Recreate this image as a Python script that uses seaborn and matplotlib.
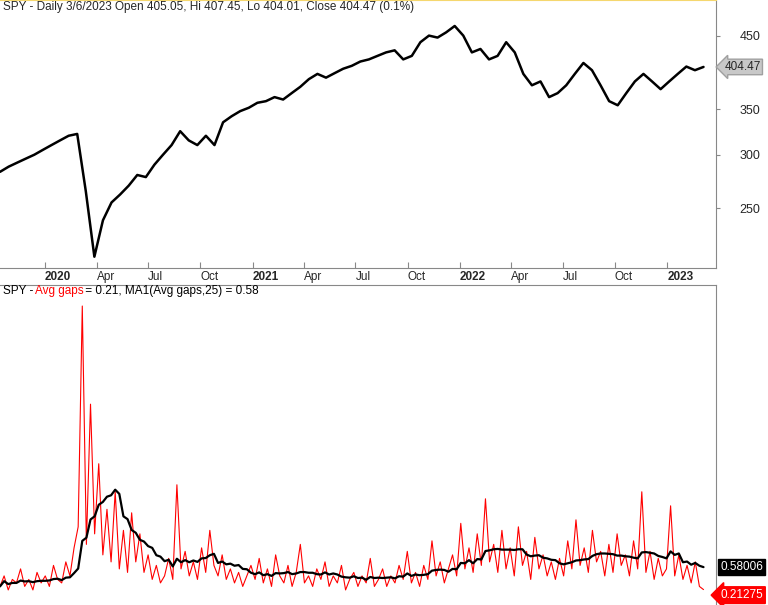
import pandas as pd
import numpy as np
import matplotlib
matplotlib.use('Agg')
import matplotlib.pyplot as plt
import matplotlib.dates as mdates
import seaborn as sns

sns.set_style('white')
plt.rcParams['font.family'] = ['Liberation Sans', 'DejaVu Sans']

# SPY close, roughly every two weeks, Oct 2019 - Mar 2023
price = [283, 288, 292, 296, 300, 305,
         310, 315, 320, 322,
         265, 212,
         240, 255, 262, 270, 280, 278,
         290, 300, 310, 325, 315, 310,
         320, 310, 335, 342, 348, 352,
         358, 360, 365, 362, 370, 378,
         388, 395, 390, 396, 402, 406,
         412, 415, 420, 425, 428, 415,
         420, 440, 450, 447, 455, 465,
         450, 425, 430, 415, 420, 440,
         425, 395, 380, 385, 365, 370,
         380, 395, 410, 400, 380, 360,
         355, 370, 385, 395, 385, 375,
         385, 395, 405, 400, 404.47]

# average gaps, weekly
gaps = [0.3, 0.6, 0.2, 0.5, 0.4, 0.8, 0.3, 0.5, 0.2, 0.7, 0.4,
        0.6, 0.3, 0.9, 0.5, 0.4, 1.0, 0.6, 1.4,
        2.0, 8.3, 1.5, 5.5, 1.8, 3.8, 1.2, 2.5, 1.0, 3.0, 0.8, 1.9, 0.7,
        2.4, 1.0, 1.8, 0.7, 1.2, 0.5, 0.9, 0.4, 0.6, 1.1, 0.5, 3.2, 0.8, 1.3, 0.6, 1.0, 0.5,
        1.4, 0.7, 1.9, 0.9, 0.6, 1.2, 0.5, 0.8, 0.4, 0.7, 0.3, 0.6, 0.9,
        0.5, 1.1, 0.4, 0.8, 0.3, 1.2, 0.6, 0.4, 0.9, 0.3, 0.7, 1.5,
        0.4, 0.6, 0.3, 0.8, 0.5, 1.0, 0.3, 0.6, 0.4, 0.9, 0.2, 0.5,
        0.7, 0.3, 0.6, 0.4, 1.1, 0.3, 0.5, 0.8, 0.3, 0.6, 0.4, 0.9,
        0.5, 1.3, 0.4, 0.7, 0.3, 0.9, 0.5, 1.6, 0.6, 1.0, 0.4, 0.8,
        1.2, 0.6, 2.1, 0.8, 1.4, 0.7, 1.8, 0.9, 2.8, 1.0, 1.5, 0.7, 1.9,
        0.8, 1.4, 0.6, 2.0, 0.9, 1.3, 0.5, 1.7, 0.8, 1.2, 0.6, 1.0, 0.5,
        1.1, 0.6, 1.6, 0.8, 2.2, 0.9, 1.4, 0.7, 1.9, 1.0, 1.3, 0.6, 1.5,
        0.7, 1.8, 0.9, 1.2, 0.6, 1.6, 0.8, 3.0, 0.7, 1.3, 0.5, 1.1, 0.6,
        0.8, 2.6, 0.6, 1.2, 0.5, 0.9, 0.4, 1.0, 0.3, 0.21]

start, end = '2019-10-14', '2023-03-06'
price_df = pd.DataFrame({'date': pd.date_range(start, end, periods=len(price)), 'close': price})
gap_df = pd.DataFrame({'date': pd.date_range(start, end, periods=len(gaps)), 'gap': gaps})
gap_df['ma'] = gap_df['gap'].rolling(10, min_periods=1).mean()

W, H = 768, 605
fig = plt.figure(figsize=(W / 100, H / 100), dpi=100)
ax1 = fig.add_axes([0, 1 - 268 / H, 716 / W, 268 / H])
ax2 = fig.add_axes([0, 0, 716 / W, (H - 285) / H])

xlim = (pd.Timestamp('2019-10-14'), pd.Timestamp('2023-03-28'))
grey = '#888888'


def date_fmt(v, pos):
    d = mdates.num2date(v)
    return str(d.year) if d.month == 1 else d.strftime('%b')


# price panel
sns.lineplot(data=price_df, x='date', y='close', ax=ax1, color='black', lw=1.8)
ax1.set_yscale('log')
ax1.set_ylim(204, 508)
ax1.set_xlim(xlim)
ax1.yaxis.tick_right()
ax1.set_yticks([250, 300, 350, 450])
ax1.yaxis.set_major_formatter(matplotlib.ticker.FuncFormatter(lambda v, p: f'{v:.0f}'))
ax1.yaxis.set_minor_locator(matplotlib.ticker.NullLocator())
ax1.tick_params(axis='y', right=True, length=3, color=grey, labelsize=9, pad=14)
ax1.xaxis.set_major_locator(mdates.MonthLocator(bymonth=[1, 4, 7, 10]))
ax1.xaxis.set_major_formatter(matplotlib.ticker.FuncFormatter(date_fmt))
ax1.tick_params(axis='x', bottom=True, direction='in', length=4, color=grey, labelsize=8.5, pad=2)
fig.canvas.draw()
for lbl, t in zip(ax1.get_xticklabels(), ax1.get_xticks()):
    lbl.set_horizontalalignment('left')
    if mdates.num2date(t).month == 1:
        lbl.set_fontweight('bold')
ax1.set_xlabel('')
ax1.set_ylabel('')
for s in ax1.spines.values():
    s.set_color(grey)
ax1.spines['top'].set_color('#f5d76e')
ax1.spines['left'].set_visible(False)
ax1.text(0.004, 0.995, 'SPY - Daily 3/6/2023 Open 405.05, Hi 407.45, Lo 404.01, Close 404.47 (0.1%)',
         transform=ax1.transAxes, ha='left', va='top', fontsize=8.5)
ax1.annotate('404.47', xy=(1.0, 404.47), xycoords=('axes fraction', 'data'),
             xytext=(6, 0), textcoords='offset points', ha='left', va='center', fontsize=8.5,
             bbox=dict(boxstyle='larrow,pad=0.15', fc='#c8c8c8', ec='#a0a0a0'))

# gaps panel
ax2.plot(gap_df['date'], gap_df['gap'], color='red', lw=0.8)
sns.lineplot(data=gap_df, x='date', y='ma', ax=ax2, color='black', lw=1.6)
ax2.set_xlim(xlim)
ax2.set_ylim(-0.23, 8.9)
ax2.set_xticks([])
ax2.set_yticks([])
ax2.set_xlabel('')
ax2.set_ylabel('')
for s in ax2.spines.values():
    s.set_color(grey)
ax2.spines['left'].set_visible(False)
ax2.spines['bottom'].set_visible(False)
fig.text(0.004, 1 - 291 / H, 'SPY - ', color='black', fontsize=8.5, va='center')
fig.text(0.004 + 32 / W, 1 - 291 / H, 'Avg gaps', color='red', fontsize=8.5, va='center')
fig.text(0.004 + 79 / W, 1 - 291 / H, ' = 0.21, MA1(Avg gaps,25) = 0.58', color='black',
         fontsize=8.5, va='center')
ax2.annotate('0.58006', xy=(1.0, gap_df['ma'].iloc[-1]), xycoords=('axes fraction', 'data'),
             xytext=(3, 0), textcoords='offset points', ha='left', va='center', fontsize=8.5,
             color='white', bbox=dict(boxstyle='square,pad=0.2', fc='black', ec='black'))
ax2.annotate('0.21275', xy=(1.0, gap_df['gap'].iloc[-1]), xycoords=('axes fraction', 'data'),
             xytext=(3, -4), textcoords='offset points', ha='left', va='center', fontsize=8.5,
             color='white', bbox=dict(boxstyle='larrow,pad=0.2', fc='red', ec='red'))

fig.savefig('out.png', dpi=100)
